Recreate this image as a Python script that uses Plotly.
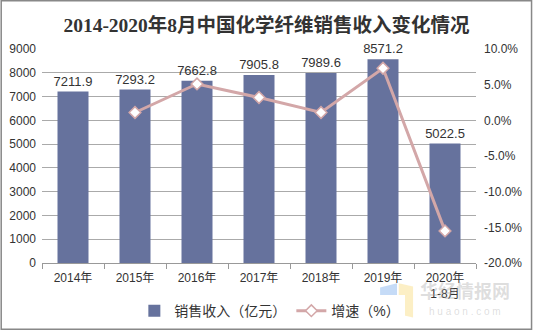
import plotly.graph_objects as go

categories = ["2014年", "2015年", "2016年", "2017年", "2018年", "2019年", "2020年<br>1-8月"]
revenue = [7211.9, 7293.2, 7662.8, 7905.8, 7989.6, 8571.2, 5022.5]
growth = [None, 1.1, 5.1, 3.2, 1.1, 7.3, -15.5]
left_ticks = [0, 1000, 2000, 3000, 4000, 5000, 6000, 7000, 8000, 9000]
right_ticks = [-20, -15, -10, -5, 0, 5, 10]
right_labels = ["-20.0%", "-15.0%", "-10.0%", "-5.0%", "0.0%", "5.0%", "10.0%"]

fig = go.Figure()
fig.add_trace(go.Bar(
    x=categories, y=revenue, name="销售收入（亿元）",
    marker=dict(color="#66729d", line=dict(width=0)), width=0.5,
    text=[f"{v:.1f}" for v in revenue], textposition="outside",
    constraintext="none",
    textfont=dict(size=13, color="#333333"), cliponaxis=False,
))
fig.add_trace(go.Scatter(
    x=categories, y=growth, name="增速（%）", yaxis="y2",
    mode="lines+markers",
    line=dict(color="#d3a7a8", width=3),
    marker=dict(symbol="diamond", size=9, color="white", line=dict(color="#d3a7a8", width=1.5)),
))

font_family = "Arial, Liberation Sans, Noto Sans CJK SC, sans-serif"
fig.update_layout(
    width=533, height=335,
    margin=dict(l=42, r=57, t=49, b=72, autoexpand=False),
    paper_bgcolor="white", plot_bgcolor="white",
    font=dict(family=font_family, size=12, color="#333333"),
    title=dict(text="<b>2014-2020年8月中国化学纤维销售收入变化情况</b>",
               x=0.5, xanchor="center", y=0.925, yanchor="middle",
               font=dict(family="Liberation Serif, Noto Sans CJK SC, serif", size=19.5, color="#333333")),
    showlegend=True,
    legend=dict(orientation="h", x=0.525, xanchor="center", y=-0.15, yanchor="top",
                font=dict(size=14, color="#333333"), itemwidth=30, tracegroupgap=0),
    xaxis=dict(type="category", showline=True, linecolor="#999999", linewidth=1,
               automargin=False, ticklabelstandoff=4,
               ticks="outside", tickson="boundaries", tickcolor="#999999", ticklen=5,
               tickfont=dict(size=12, color="#333333")),
    yaxis=dict(range=[0, 9000], tickvals=left_ticks, showgrid=True, gridcolor="#aaaaaa",
               automargin=False, ticklabelstandoff=5,
               gridwidth=1, zeroline=False, ticks="", tickfont=dict(size=12, color="#333333")),
    yaxis2=dict(range=[-20, 10], tickvals=right_ticks, ticktext=right_labels,
                overlaying="y", side="right", automargin=False, ticklabelstandoff=7,
                showgrid=False, zeroline=False,
                tickfont=dict(size=12, color="#333333")),
    shapes=[
        dict(type="rect", xref="paper", yref="paper", x0=-0.094, x1=1.128, y0=-0.31, y1=1.225,
             line=dict(color="#888888", width=1.5), fillcolor="rgba(0,0,0,0)"),
        dict(type="path", xref="paper", yref="paper",
             path="M 0.779 -0.115 L 0.818 -0.095 L 0.818 -0.24 L 0.779 -0.26 Z",
             fillcolor="rgba(150,190,240,0.55)", line=dict(width=0), layer="below"),
        dict(type="path", xref="paper", yref="paper",
             path="M 0.822 -0.095 L 0.855 -0.11 L 0.855 -0.255 L 0.822 -0.24 Z",
             fillcolor="rgba(250,225,150,0.55)", line=dict(width=0), layer="below"),
    ],
    annotations=[
        dict(text="<b>华经情报网</b>", xref="paper", yref="paper", x=0.975, y=-0.135,
             xanchor="center", yanchor="middle",
             showarrow=False, font=dict(size=18, color="rgba(160,160,160,0.35)")),
        dict(text="h u a o n . c o m", xref="paper", yref="paper", x=0.975, y=-0.225,
             xanchor="center", yanchor="middle",
             showarrow=False, font=dict(size=10, color="rgba(160,160,160,0.35)")),
    ],
)

fig.write_html("out.html")
